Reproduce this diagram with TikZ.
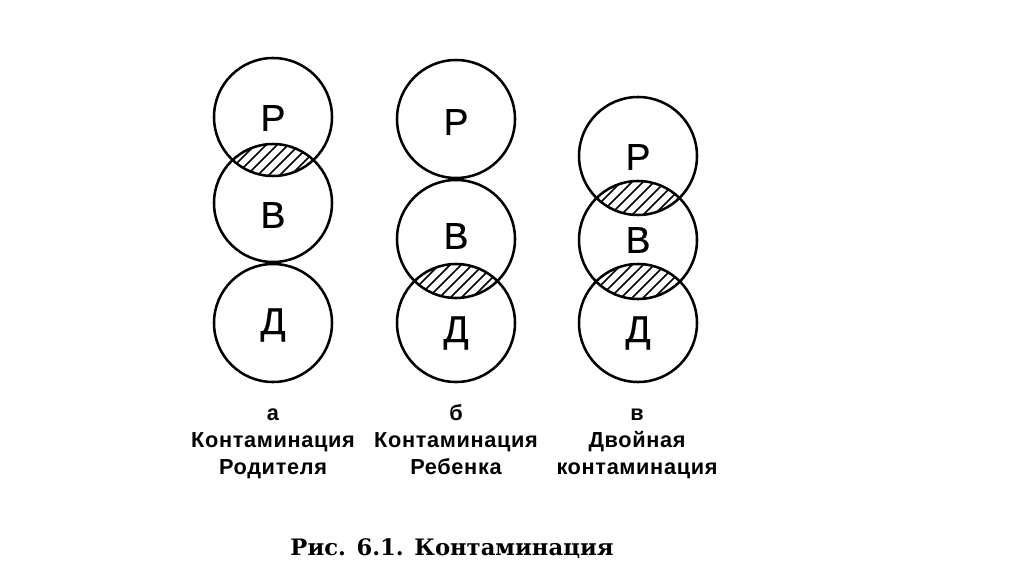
\documentclass[tikz,border=0pt]{standalone}
\usepackage{fontspec}
\setmainfont{Liberation Sans}
\newfontfamily\letterfont{Liberation Sans}[FakeBold=0.6]
\newfontfamily\labelfont{Liberation Sans Bold}[LetterSpace=3]
\newfontfamily\titlefont{DejaVu Serif Bold}
\begin{document}
\begin{tikzpicture}[x=0.75pt,y=0.75pt,
  ring/.style={circle,draw,line width=1.9pt,minimum size=118*0.75pt,inner sep=0pt},
  letter/.style={font=\letterfont\fontsize{28}{30}\selectfont,inner sep=0pt},
  caption/.style={font=\labelfont\fontsize{16.3}{19}\selectfont,inner sep=0pt,anchor=base},
  hatchline/.style={line width=1.1pt},
  title/.style={font=\titlefont\fontsize{17}{20}\selectfont,inner sep=0pt,anchor=base}]
\useasboundingbox (0,0) rectangle (1024,-585);
% column a
\node[ring] (aP) at (273,-117) {};
\node[ring] (aB) at (273,-203) {};
\node[ring] (aD) at (273,-323) {};
% column b
\node[ring] (bP) at (456,-119) {};
\node[ring] (bB) at (456,-239) {};
\node[ring] (bD) at (456,-323) {};
% column c
\node[ring] (cP) at (638,-156) {};
\node[ring] (cB) at (638,-240) {};
\node[ring] (cD) at (638,-323) {};
% hatching
\begin{scope}
  \clip (273,-117) circle (59); \clip (273,-203) circle (59);
  \foreach \i in {-6,...,6} \draw[hatchline] (273+\i*11-40,-160-40) -- ++(80,80);
\end{scope}
\begin{scope}
  \clip (456,-239) circle (59); \clip (456,-323) circle (59);
  \foreach \i in {-6,...,6} \draw[hatchline] (456+\i*11-40,-281-40) -- ++(80,80);
\end{scope}
\begin{scope}
  \clip (638,-156) circle (59); \clip (638,-240) circle (59);
  \foreach \i in {-6,...,6} \draw[hatchline] (638+\i*11-40,-198-40) -- ++(80,80);
\end{scope}
\begin{scope}
  \clip (638,-240) circle (59); \clip (638,-323) circle (59);
  \foreach \i in {-6,...,6} \draw[hatchline] (638+\i*11-40,-281-40) -- ++(80,80);
\end{scope}
% letters
\node[letter] (aPt) at (273,-118) {Р};
\node[letter] (aBt) at (273,-215) {В};
\node[letter] (aDt) at (273,-325) {Д};
\node[letter] (bPt) at (456,-122) {Р};
\node[letter] (bBt) at (456,-236) {В};
\node[letter] (bDt) at (456,-333) {Д};
\node[letter] (cPt) at (638,-157) {Р};
\node[letter] (cBt) at (638,-240) {В};
\node[letter] (cDt) at (638,-333) {Д};
% captions
\node[caption] (la1) at (273,-420) {а};
\node[caption] (la2) at (273,-447) {Контаминация};
\node[caption] (la3) at (273,-474) {Родителя};
\node[caption] (lb1) at (456,-420) {б};
\node[caption] (lb2) at (456,-447) {Контаминация};
\node[caption] (lb3) at (456,-474) {Ребенка};
\node[caption] (lc1) at (637,-420) {в};
\node[caption] (lc2) at (637,-447) {Двойная};
\node[caption] (lc3) at (637,-474) {контаминация};
% title
\node[title] (ttl) at (452,-555) {Рис. 6.1. Контаминация};
\end{tikzpicture}
\end{document}
